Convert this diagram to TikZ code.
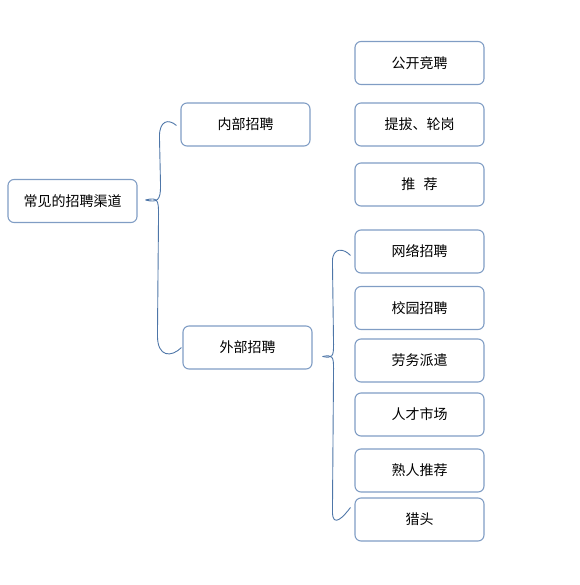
\documentclass[tikz,border=0pt]{standalone}
\usepackage{fontspec}
\setmainfont{Noto Sans CJK SC}
\usetikzlibrary{calc}
\definecolor{boxline}{RGB}{128,157,196}
\definecolor{braceline}{RGB}{78,118,168}
\begin{document}
\begin{tikzpicture}[x=1pt, y=-1pt, box/.style={draw=boxline,line width=1.1pt,rounded corners=6pt,minimum width=129pt,minimum height=43pt,inner sep=0pt,font=\fontsize{14pt}{16pt}\selectfont}, brace/.style={draw=braceline,line width=0.9pt}]

 \useasboundingbox (0,0) rectangle (579,585);

 \node[box] (root) at (72.5,201) {常见的招聘渠道};
 \node[box] (inner) at (245.5,124.5) {内部招聘};
 \node[box] (outer) at (247.5,347.5) {外部招聘};

\foreach \name/\y/\txt in {gkjp/63/公开竞聘, tblg/124.5/{提拔、轮岗}, tj/184.5/{推\hspace{0.6em}荐}, wlzp/251.5/网络招聘, xyzp/308/校园招聘, lwpq/360.5/劳务派遣, rcsc/414.5/人才市场, srtj/470.5/熟人推荐, lt/519.5/猎头}
			\node[box] (\name) at (419.5,\y) {\txt};

 \coordinate (b1) at ($(root.east)+(8,-1)$);
 \coordinate (b2) at ($(outer.east)+(10,9)$);

	\draw[brace] (b1) .. controls +(12,3) and +(0,14) .. ++(15,-14) -- ($(inner.west)+(-21,12)$) .. controls +(0,-16) and +(-8,-7) .. ($(inner.west)+(-4,1)$);
	\draw[brace] (b1) .. controls +(12,-3) and +(0,-14) .. ++(13,14) -- ($(outer.west)+(-25,-12)$) .. controls +(0,22) and +(-10,10) .. ($(outer.west)+(-1,0)$);

	\draw[brace] (b2) .. controls +(10,2) and +(0,12) .. ++(11,-12) -- ($(wlzp.west)+(-22,10)$) .. controls +(0,-15) and +(-6,-7) .. ($(wlzp.west)+(-4,4)$);
	\draw[brace] (b2) .. controls +(10,-2) and +(0,-12) .. ++(11,12) -- ($(lt.west)+(-22,-8)$) .. controls +(0,18) and +(-6,8) .. ($(lt.west)+(-4,-12)$);
\end{tikzpicture}
\end{document}
